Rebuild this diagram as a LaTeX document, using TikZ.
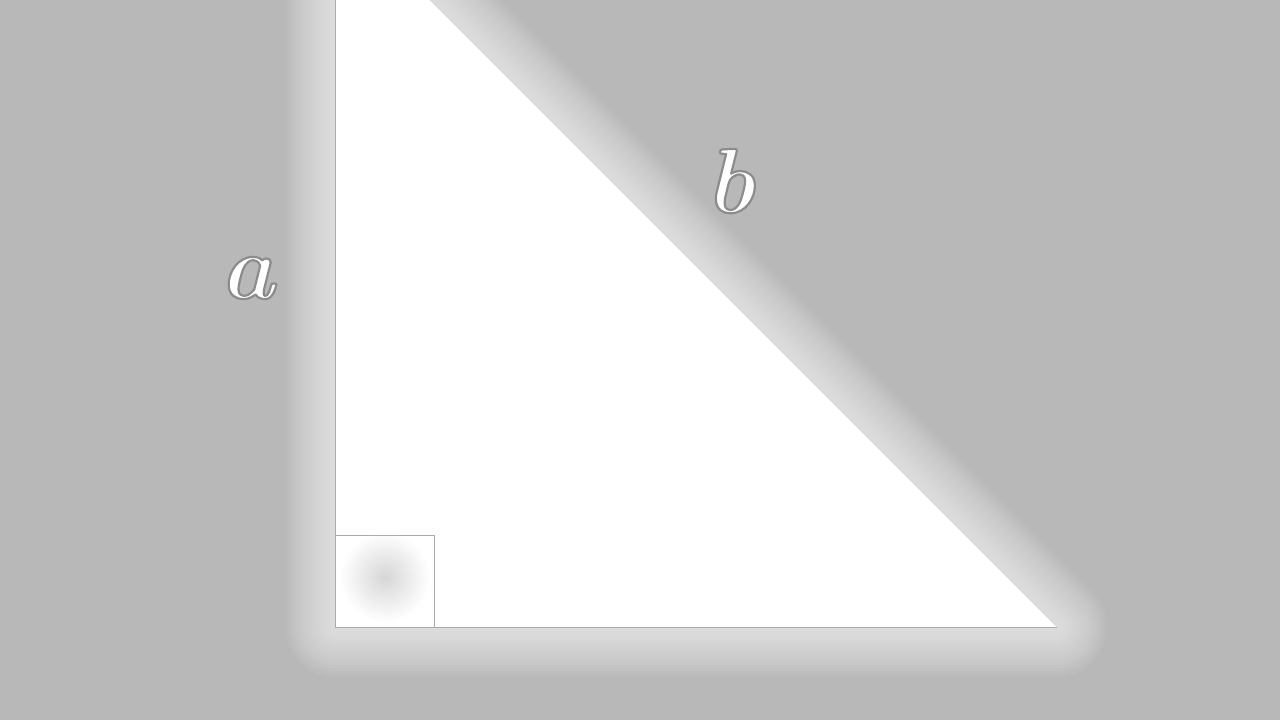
\documentclass[tikz,border=0pt]{standalone}
\usetikzlibrary{shadings}
\definecolor{bg}{HTML}{B8B8B8}
\definecolor{edge}{HTML}{ABABAB}
\newcommand{\outlined}[1]{\special{pdf:literal direct 2 Tr 2.2 w 1 j 0.55 0.55 0.55 RG}#1\special{pdf:literal direct 0 Tr}}
\tikzset{
  lbl/.style={text=white,font=\fontsize{92}{92}\selectfont\bfseries\itshape,inner sep=0pt},
  glow/.style={draw=white,line join=round,opacity=0.05},
  tri/.style={fill=white,draw=none},
  edgeline/.style={draw=edge,line width=1pt}
}
\begin{document}
\begin{tikzpicture}[x=1pt,y=-1pt]
\fill[bg] (0,0) rectangle (1280,720);
\useasboundingbox (0,0) rectangle (1280,720);
\coordinate (A) at (335,-95);
\coordinate (C) at (335,627);
\coordinate (B) at (1057,627);
\begin{scope}
\clip (0,0) rectangle (1280,720);
\foreach \w in {100,94,88,82,76,70,64,58,52,46,40,34,28,22,16,10,6} {
  \draw[glow,line width=\w pt] (A) -- (C) -- (B) -- cycle;
}
\fill[tri] (A) -- (C) -- (B) -- cycle;
\draw[edgeline] (A) -- (C) -- (B);
\draw[draw=edge!50,line width=0.6pt] (B) -- (A);
\node[draw=none,minimum size=90pt,inner sep=0pt,circle,inner color=black!16,outer color=white] (dot) at (385,577) {};
\draw[edgeline] (335,535) rectangle (434,627);
\end{scope}
\node[lbl] (a) at (247,278) {\outlined{a}};
\node[lbl] (b) at (730,181) {\outlined{b}};
\end{tikzpicture}
\end{document}
